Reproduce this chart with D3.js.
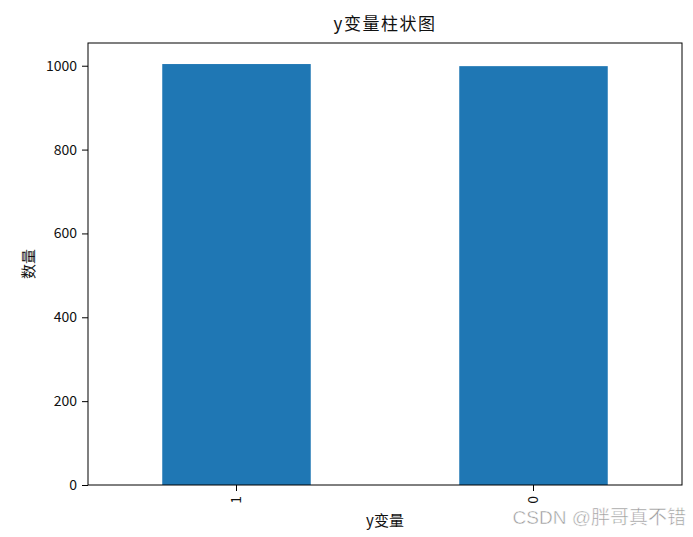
<!DOCTYPE html>
<html><head><meta charset="utf-8">
<script src="https://cdn.jsdelivr.net/npm/d3@7"></script>
<style>body{margin:0;background:#fff}svg{display:block}</style>
</head><body>
<svg id="c" width="693" height="537"></svg>
<script>
const categories = ["1", "0"];
const counts = [1004, 999];
const yTicks = [0, 200, 400, 600, 800, 1000];
const titleText = "y变量柱状图";
const xLabel = "y变量";
const yLabel = "数量";
const watermark = "CSDN @胖哥真不错";

const svg = d3.select("#c");
const m = {left: 88, right: 682, top: 43, bottom: 485};
const font = "'Noto Sans CJK SC', 'DejaVu Sans', sans-serif";

const x = d3.scaleBand().domain(categories).range([m.left, m.right]).paddingInner(0.5).paddingOuter(0.25);
const y = d3.scaleLinear().domain([0, d3.max(counts) * 1.05]).range([m.bottom, m.top]);

svg.append("g").selectAll("rect").data(categories).join("rect")
  .attr("x", d => x(d)).attr("width", x.bandwidth())
  .attr("y", (d, i) => y(counts[i])).attr("height", (d, i) => m.bottom - y(counts[i]))
  .attr("fill", "#1f77b4");

const yAxis = svg.append("g").attr("transform", `translate(${m.left},0)`)
  .call(d3.axisLeft(y).tickValues(yTicks).tickFormat(d3.format("d")).tickSize(6).tickPadding(5));
const xAxis = svg.append("g").attr("transform", `translate(0,${m.bottom})`)
  .call(d3.axisBottom(x).tickSize(6).tickPadding(5));
[yAxis, xAxis].forEach(a => {
  a.select(".domain").remove();
  a.selectAll("line").attr("stroke", "#000").attr("stroke-width", 1);
  a.selectAll("text").attr("font-family", font).attr("font-size", 14).attr("fill", "#111");
});
xAxis.selectAll("text")
  .attr("transform", "rotate(-90)")
  .attr("x", -11).attr("y", 0).attr("dy", "0.35em")
  .attr("text-anchor", "end");

svg.append("rect").attr("x", m.left).attr("y", m.top)
  .attr("width", m.right - m.left).attr("height", m.bottom - m.top)
  .attr("fill", "none").attr("stroke", "#000").attr("stroke-width", 1);

svg.append("text").attr("x", (m.left + m.right) / 2).attr("y", 30)
  .attr("text-anchor", "middle").attr("font-family", font).attr("font-size", 17)
  .attr("letter-spacing", 1.5).attr("fill", "#111").text(titleText);
svg.append("text").attr("x", (m.left + m.right) / 2).attr("y", 526)
  .attr("text-anchor", "middle").attr("font-family", font).attr("font-size", 15)
  .attr("fill", "#111").text(xLabel);
svg.append("text").attr("transform", `translate(34,264) rotate(-90)`)
  .attr("text-anchor", "middle").attr("font-family", font).attr("font-size", 15)
  .attr("fill", "#111").text(yLabel);
svg.append("text").attr("x", 686).attr("y", 524)
  .attr("text-anchor", "end").attr("font-family", "'Liberation Sans', 'Noto Sans CJK SC', sans-serif").attr("font-size", 19)
  .attr("fill", "#9a9a9a").attr("stroke", "#fff").attr("stroke-width", 0.5).text(watermark);
</script>
</body></html>
